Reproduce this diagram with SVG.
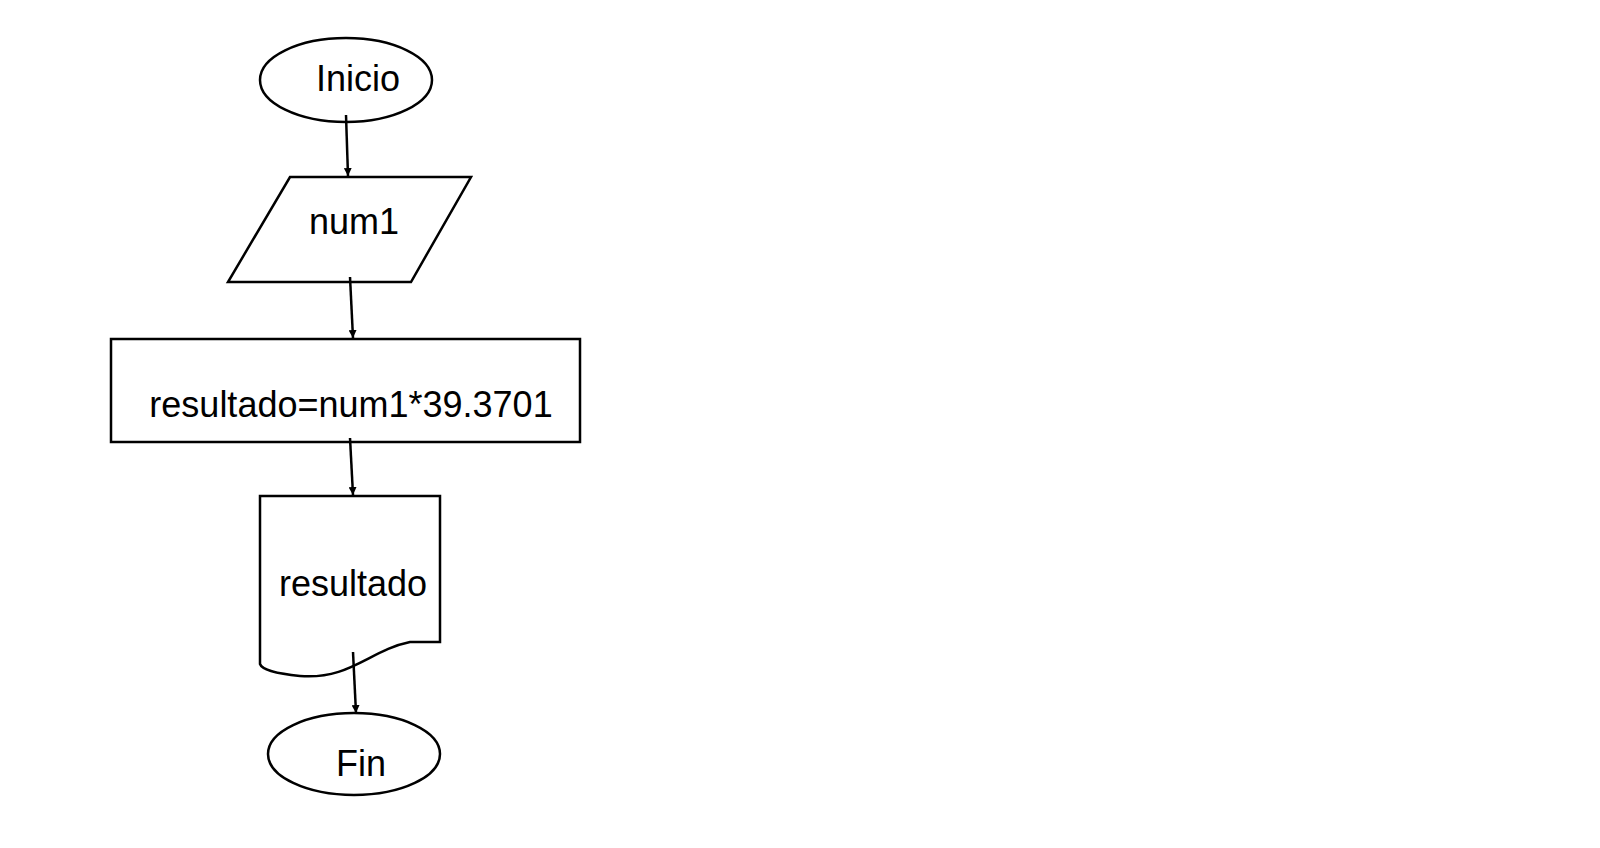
<svg xmlns="http://www.w3.org/2000/svg" width="1600" height="848" viewBox="0 0 1600 848">
<style>
.s{fill:#fff;stroke:#000;stroke-width:2.5}
.t{font-family:"Liberation Sans",Arial,sans-serif;font-size:36px;text-anchor:middle;fill:#000}
.c{stroke:#000;stroke-width:2.5;fill:none;marker-end:url(#a)}
</style>
<defs><marker id="a" viewBox="0 0 10 10" refX="10" refY="5" markerWidth="8" markerHeight="8" orient="auto" markerUnits="userSpaceOnUse" ><path d="M0,0L10,5L0,10z" fill="#000"/></marker></defs>
<rect width="1600" height="848" fill="#fff"/>
<g id="inicio"><ellipse class="s" cx="346" cy="80" rx="86" ry="42"/><text class="t" x="358" y="91">Inicio</text></g>
<g id="num1"><polygon class="s" points="290,177 471,177 411,282 228,282"/><text class="t" x="354" y="234">num1</text></g>
<g id="proc"><rect class="s" x="111" y="339" width="469" height="103"/><text class="t" x="351" y="417">resultado=num1*39.3701</text></g>
<g id="out"><path class="s" d="M260,496H440V642H410C370,650 350,680 300,676C280,674 262,670 260,664Z"/><text class="t" x="353" y="596">resultado</text></g>
<g id="fin"><ellipse class="s" cx="354" cy="754" rx="86" ry="41"/><text class="t" x="361" y="776">Fin</text></g>
<g id="connectors">
<line class="c" x1="346" y1="115" x2="348" y2="176"/>
<line class="c" x1="350" y1="277" x2="353" y2="338"/>
<line class="c" x1="350" y1="438" x2="353" y2="495"/>
<line class="c" x1="353" y1="652" x2="356" y2="713"/>
</g>
</svg>
